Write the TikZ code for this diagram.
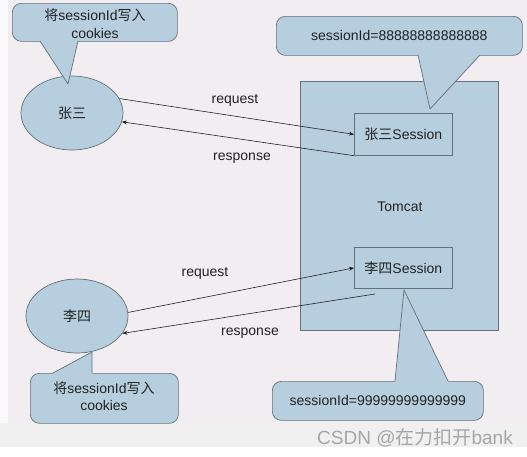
\documentclass[tikz,border=0pt]{standalone}
\usepackage{fontspec}
\setmainfont{Liberation Sans}
\newfontfamily\cjk{Noto Sans CJK SC}
\usetikzlibrary{shapes.geometric,arrows.meta}
\definecolor{bg}{RGB}{241,237,241}
\definecolor{boxfill}{RGB}{182,206,222}
\definecolor{edge}{RGB}{100,112,122}
\definecolor{ink}{RGB}{34,34,34}
\begin{document}
\begin{tikzpicture}[x=1pt,y=-1pt,
  shapebox/.style={draw=edge, fill=boxfill, line width=0.7pt, inner sep=0pt},
  lbl/.style={text=ink, font=\fontsize{14}{17}\selectfont},
  conn/.style={draw=ink, line width=0.6pt},
  tipend/.style={-{Stealth[length=5pt,width=4pt]}},
  ptrline/.style={draw=edge, line width=0.7pt, line join=round}]
\useasboundingbox (0,0) rectangle (527,456);
\fill[bg] (0,0) rectangle (527,456);
\fill[white!96!gray] (0,0) rectangle (8,423);
\fill[gray!12] (0,423) rectangle (527,447);
\fill[white] (0,447) rectangle (527,456);

% Tomcat container
\node[shapebox, rectangle, minimum width=198pt, minimum height=249pt, anchor=north west] (tomcat) at (300,81) {};
\node[lbl] (tomcatlbl) at (400,207) {Tomcat};

% session boxes
\node[shapebox, rectangle, minimum width=98pt, minimum height=42pt, anchor=north west, lbl] (zss) at (354,113) {{\cjk 张三}Session};
\node[shapebox, rectangle, minimum width=98pt, minimum height=41pt, anchor=north west, lbl] (lss) at (354,247) {{\cjk 李四}Session};

% callouts
\node[shapebox, rectangle, rounded corners=9pt, minimum width=246pt, minimum height=39pt, anchor=north west, lbl] (c1) at (276,16) {sessionId=88888888888888};
\node[shapebox, rectangle, rounded corners=9pt, minimum width=211pt, minimum height=39pt, anchor=north west, lbl] (c2) at (272,381) {sessionId=99999999999999};
\node[shapebox, rectangle, rounded corners=9pt, minimum width=165pt, minimum height=38pt, anchor=north west] (c3) at (12,3) {};
\node[shapebox, rectangle, rounded corners=9pt, minimum width=148pt, minimum height=50pt, anchor=north west] (c4) at (30,373) {};

% clients
\node[shapebox, ellipse, minimum width=102pt, minimum height=74pt, lbl] (zs) at (72,113) {\cjk 张三};
\node[shapebox, ellipse, minimum width=102pt, minimum height=74pt, lbl] (ls) at (77,316) {\cjk 李四};

% callout pointers
\fill[boxfill] (418,55) -- (430,109) -- (480,55) -- (480,53) -- (418,53) -- cycle;
\draw[ptrline] (418,55) -- (430,109) -- (480,55);
\fill[boxfill] (395,381) -- (404,290) -- (448,381) -- (448,383) -- (395,383) -- cycle;
\draw[ptrline] (395,381) -- (404,290) -- (448,381);
\fill[boxfill] (40,41) -- (68,84) -- (78,41) -- (78,39) -- (40,39) -- cycle;
\draw[ptrline] (40,41) -- (68,84) -- (78,41);
\fill[boxfill] (53,373) -- (92,352) -- (92,373) -- (92,375) -- (53,375) -- cycle;
\draw[ptrline] (53,373) -- (92,352) -- (92,373);

% callout texts
\node[lbl, align=center] (c3t) at (95,23.5) {{\cjk 将}sessionId{\cjk 写入}\\[1pt]cookies};
\node[lbl, align=center] (c4t) at (104,396) {{\cjk 将}sessionId{\cjk 写入}\\[0pt]cookies};

% connectors
\draw[conn, tipend] (zs.17) -- (zss.west);
\draw[conn, tipend] (zss.south west) -- (zs.-10);
\draw[conn, tipend] (ls.4) -- (lss.west);
\coordinate (rb) at (375,294);
\draw[conn, tipend] (rb) -- (ls.-21);

% labels
\node[lbl] (req1) at (235,100) {request};
\node[lbl] (resp1) at (242,158) {response};
\node[lbl] (req2) at (205,273) {request};
\node[lbl] (resp2) at (250,333) {response};

% watermark
\node[text=gray!70, font=\fontsize{19}{22}\selectfont] (wm) at (415,438) {CSDN @{\cjk 在力扣开}bank};
\end{tikzpicture}
\end{document}
